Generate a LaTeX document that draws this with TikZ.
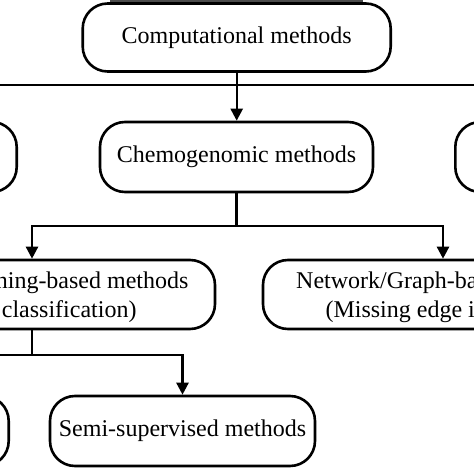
\documentclass[tikz,border=0pt]{standalone}
\usepackage{fontspec}
\setmainfont{Liberation Serif}
\usetikzlibrary{arrows.meta}

\begin{document}
\begin{tikzpicture}[x=1pt,y=-1pt,
  font=\fontsize{24}{28}\selectfont,
  methodbox/.style={draw,line width=2.6pt,rounded corners=25pt,inner sep=0pt},
  link/.style={line width=2.4pt},
  arrowlink/.style={link,-{Triangle[length=12pt,width=12pt]}}]
\useasboundingbox (0,0) rectangle (474,474);
\clip (0,0) rectangle (474,474);

% Edge of the figure above
\fill[black!70] (110,0) rectangle (363,2.5);

% Top level
\node[methodbox,minimum width=308pt,minimum height=68pt] (comp) at (236.7,37.5) {Computational methods};
\coordinate (busL) at (0,85);
\coordinate (busR) at (474,85);
\draw[link] (busL) -- (busR);

% Second level
\node[methodbox,minimum width=273pt,minimum height=70pt] (chemo) at (236.5,157) {Chemogenomic methods};
\node[methodbox,minimum width=200pt,minimum height=70pt,anchor=east] (leftmeth) at (18,157) {};
\node[methodbox,minimum width=200pt,minimum height=70pt,anchor=west] (rightmeth) at (454,157) {};
\draw[arrowlink] (comp.south) -- (comp.south |- chemo.north);

% Third level
\node[methodbox,minimum width=366pt,minimum height=69pt] (ml) at (32,294.5) {};
\node[methodbox,minimum width=360pt,minimum height=69pt] (net) at (443,294.5) {};
\node[anchor=base east] (mlA) at (192,288) {ning-based methods};
\node[anchor=base east] (mlB) at (140,317) {classification)};
\node[anchor=base west] (netA) at (292.7,288) {Network/Graph-ba};
\node[anchor=base west] (netB) at (322,317) {(Missing edge i};
\coordinate (split2) at (236.5,226);
\draw[link] (chemo.south) -- (split2);
\draw[arrowlink] (split2) -| (ml.north);
\draw[arrowlink] (split2) -| (net.north);

% Fourth level
\node[methodbox,minimum width=265pt,minimum height=70pt] (semi) at (182.5,431) {Semi-supervised methods};
\node[methodbox,minimum width=200pt,minimum height=70pt,anchor=east] (supmeth) at (10,431) {};
\coordinate (split3) at (32,355);
\coordinate (split3L) at (0,355);
\draw[link] (ml.south) -- (split3);
\draw[arrowlink] (split3L) -| (semi.north);
\end{tikzpicture}
\end{document}
